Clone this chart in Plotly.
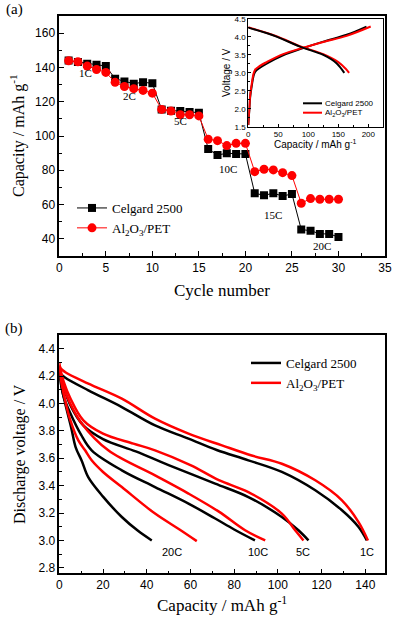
import plotly.graph_objects as go

W, H = 393, 619

# ---------------- Panel (a) data ----------------
cycles = list(range(1, 31))
cap_celgard = [144.0, 143.2, 142.1, 141.6, 140.8,
               133.4, 131.8, 130.5, 131.4, 130.7,
               115.5, 114.8, 114.6, 114.0, 113.6,
               92.4, 88.9, 89.9, 89.5, 89.5,
               66.6, 65.4, 66.6, 65.0, 66.2,
               45.4, 44.8, 42.9, 42.9, 41.1]
cap_al2o3 = [143.9, 143.3, 140.8, 138.8, 137.1,
             131.3, 128.9, 127.6, 126.6, 125.0,
             115.5, 114.6, 112.4, 112.4, 111.7,
             98.1, 97.3, 94.4, 95.7, 95.7,
             79.2, 80.6, 80.2, 78.6, 76.9,
             60.8, 63.5, 63.1, 63.1, 63.1]
rate_labels_a = ["1C", "2C", "5C", "10C", "15C", "20C"]
rate_label_x_a = [2.8, 7.55, 13.0, 18.1, 23.0, 28.2]
rate_label_y_a = [136.7, 123.3, 108.7, 80.6, 53.8, 35.8]

# ---------------- Inset data (charge/discharge) ----------------
ins_ch_cap_c = [0, 1.7, 3, 5.6, 11, 20, 30.6, 58, 91.7, 125, 164, 197]
ins_ch_v_c = [1.55, 1.97, 2.3, 2.62, 3.02, 3.15, 3.26, 3.49, 3.69, 3.87, 4.06, 4.29]
ins_ch_cap_a = [0, 1.7, 3, 5.6, 11, 20, 30.6, 58, 91.7, 125, 164, 204]
ins_ch_v_a = [1.55, 2.0, 2.35, 2.68, 3.08, 3.2, 3.3, 3.52, 3.70, 3.86, 4.03, 4.29]
ins_dis_cap_c = [0, 47, 86, 125, 147, 160]
ins_dis_v_c = [4.26, 4.01, 3.73, 3.5, 3.27, 3.0]
ins_dis_cap_a = [0, 47, 86, 125, 150, 162, 168]
ins_dis_v_a = [4.27, 4.02, 3.74, 3.52, 3.30, 3.12, 3.0]

# ---------------- Panel (b) data ----------------
b_1c_cap_c = [0, 0.5, 2.6, 13.3, 28.6, 43.8, 59.1, 72, 86.5, 101.8, 117.1, 129.3, 136.9, 140.7]
b_1c_v_c = [4.27, 4.22, 4.19, 4.096, 3.974, 3.84, 3.743, 3.66, 3.585, 3.50, 3.366, 3.22, 3.098, 3.0]
b_1c_cap_a = [0, 0.5, 2.6, 13.3, 28.6, 43.8, 59.1, 74.4, 88, 101.8, 117.1, 129.3, 136.9, 141.2]
b_1c_v_a = [4.30, 4.26, 4.23, 4.145, 4.035, 3.889, 3.78, 3.694, 3.62, 3.56, 3.439, 3.293, 3.134, 3.0]

b_5c_cap_c = [0, 2, 5, 11, 20, 35, 50, 71.3, 86.5, 101.8, 109.4, 114]
b_5c_v_c = [4.25, 4.12, 3.99, 3.84, 3.74, 3.65, 3.55, 3.415, 3.317, 3.171, 3.074, 3.0]
b_5c_cap_a = [0, 2, 5, 11, 20, 33.9, 43.8, 60, 73, 86.5, 101.8, 107.9, 111.7]
b_5c_v_a = [4.28, 4.16, 4.04, 3.877, 3.78, 3.707, 3.658, 3.55, 3.44, 3.353, 3.196, 3.074, 3.0]

b_10c_cap_c = [0, 2, 5, 10, 14.8, 28.6, 43.8, 59.1, 71.3, 80, 89.5]
b_10c_v_c = [4.23, 4.05, 3.93, 3.77, 3.658, 3.512, 3.39, 3.269, 3.16, 3.08, 3.0]
b_10c_cap_a = [0, 2, 5, 10, 22.4, 43.8, 59.1, 73, 85, 94.2]
b_10c_v_a = [4.27, 4.12, 4.0, 3.86, 3.658, 3.475, 3.342, 3.21, 3.074, 3.0]

b_20c_cap_c = [0, 1, 3, 5.5, 7.5, 10.3, 13.3, 20, 28.6, 36, 42.3]
b_20c_v_c = [4.22, 4.12, 3.98, 3.82, 3.68, 3.58, 3.46, 3.32, 3.171, 3.07, 3.0]
b_20c_cap_a = [0, 1, 3, 5, 8.7, 11.8, 14.8, 20, 28.6, 43.8, 55, 62.9]
b_20c_v_a = [4.26, 4.15, 4.0, 3.88, 3.73, 3.658, 3.585, 3.5, 3.39, 3.196, 3.08, 2.995]

rate_labels_b = ["20C", "10C", "5C", "1C"]
rate_label_x_b = [51.5, 90.8, 111.7, 140.7]
rate_label_y_b = [2.915, 2.915, 2.915, 2.915]

BLACK = "#000000"
RED = "#ff0000"
SERIF = "Liberation Serif"
SANS = "Liberation Sans"
LEG_C = "Celgard 2500"
LEG_A = "Al<sub>2</sub>O<sub>3</sub>/PET"


def px_x(p):
    return p / W


def px_y(p):
    return 1 - p / H


fig = go.Figure()

# Panel (a)
fig.add_trace(go.Scatter(x=cycles, y=cap_celgard, mode="lines+markers", name=LEG_C,
                         line=dict(color=BLACK, width=1),
                         marker=dict(symbol="square", size=8, color=BLACK),
                         xaxis="x", yaxis="y", legend="legend"))
fig.add_trace(go.Scatter(x=cycles, y=cap_al2o3, mode="lines+markers", name=LEG_A,
                         line=dict(color=RED, width=1),
                         marker=dict(symbol="circle", size=9, color=RED),
                         xaxis="x", yaxis="y", legend="legend"))

# Inset
fig.add_trace(go.Scatter(x=ins_ch_cap_c, y=ins_ch_v_c, mode="lines", showlegend=False,
                         line=dict(color=BLACK, width=2, shape="spline"),
                         xaxis="x2", yaxis="y2"))
fig.add_trace(go.Scatter(x=ins_ch_cap_a, y=ins_ch_v_a, mode="lines", showlegend=False,
                         line=dict(color=RED, width=2, shape="spline"),
                         xaxis="x2", yaxis="y2"))
fig.add_trace(go.Scatter(x=ins_dis_cap_a, y=ins_dis_v_a, mode="lines", showlegend=False,
                         line=dict(color=RED, width=2, shape="spline"),
                         xaxis="x2", yaxis="y2"))
fig.add_trace(go.Scatter(x=ins_dis_cap_c, y=ins_dis_v_c, mode="lines", showlegend=False,
                         line=dict(color=BLACK, width=2, shape="spline"),
                         xaxis="x2", yaxis="y2"))

# Panel (b)
b_sets = [
    (b_1c_cap_c, b_1c_v_c, b_1c_cap_a, b_1c_v_a),
    (b_5c_cap_c, b_5c_v_c, b_5c_cap_a, b_5c_v_a),
    (b_10c_cap_c, b_10c_v_c, b_10c_cap_a, b_10c_v_a),
    (b_20c_cap_c, b_20c_v_c, b_20c_cap_a, b_20c_v_a),
]
for i, (cc, vc, ca, va) in enumerate(b_sets):
    fig.add_trace(go.Scatter(x=cc, y=vc, mode="lines", name=LEG_C, showlegend=(i == 0),
                             line=dict(color=BLACK, width=2.5, shape="spline"),
                             xaxis="x3", yaxis="y3", legend="legend3"))
    fig.add_trace(go.Scatter(x=ca, y=va, mode="lines", name=LEG_A, showlegend=(i == 0),
                             line=dict(color=RED, width=2.5, shape="spline"),
                             xaxis="x3", yaxis="y3", legend="legend3"))


def axis(domain, rng, dtick, minor_dtick, anchor, fontsize=12, ticklen=5, lw=1.5, fmt=None):
    d = dict(domain=domain, range=rng, anchor=anchor, dtick=dtick, tick0=0,
             automargin=False,
             showline=True, mirror=True, linecolor=BLACK, linewidth=lw,
             ticks="inside", ticklen=ticklen, tickwidth=1.2, tickcolor=BLACK,
             showgrid=False, zeroline=False,
             tickfont=dict(family=SANS, size=fontsize, color=BLACK))
    if minor_dtick:
        d["minor"] = dict(dtick=minor_dtick, ticks="inside", ticklen=ticklen * 0.6,
                          tickwidth=1, tickcolor=BLACK, showgrid=False)
    if fmt:
        d["tickformat"] = fmt
    return d


a_xdom = [px_x(59.3), px_x(385)]
a_ydom = [px_y(256), px_y(16)]
i_xdom = [px_x(248.3), px_x(382.7)]
i_ydom = [px_y(126.7), px_y(19)]
b_xdom = [px_x(59.3), px_x(385)]
b_ydom = [px_y(573.3), px_y(335)]

layout = dict(
    template="none",
    width=W, height=H, autosize=False,
    margin=dict(l=0, r=0, t=0, b=0, pad=0, autoexpand=False),
    paper_bgcolor="white", plot_bgcolor="white",
    xaxis=axis(a_xdom, [0, 35], 5, 2.5, "y"),
    yaxis=axis(a_ydom, [30, 170], 20, 10, "x"),
    xaxis2=axis(i_xdom, [0, 224], 50, 25, "y2", fontsize=8, ticklen=3, lw=1.2),
    yaxis2=axis(i_ydom, [1.5, 4.5], 0.5, 0.25, "x2", fontsize=8, ticklen=3, lw=1.2, fmt=".1f"),
    xaxis3=axis(b_xdom, [0, 149], 20, 10, "y3"),
    yaxis3=axis(b_ydom, [2.76, 4.5], 0.2, 0.1, "x3", fmt=".1f"),
    legend=dict(x=px_x(72), y=px_y(193), xanchor="left", yanchor="top",
                bgcolor="rgba(0,0,0,0)", font=dict(family=SERIF, size=13, color=BLACK),
                itemwidth=30, tracegroupgap=0),
    legend3=dict(x=px_x(246), y=px_y(348), xanchor="left", yanchor="top",
                 bgcolor="rgba(0,0,0,0)", font=dict(family=SERIF, size=13, color=BLACK),
                 itemwidth=30, tracegroupgap=0),
    showlegend=True,
)


def ann(text, x, y, size, family, xref="paper", yref="paper", angle=0, xanchor="center"):
    if xref == "paper":
        x = px_x(x)
    if yref == "paper":
        y = px_y(y)
    return dict(text=text, x=x, y=y, xref=xref, yref=yref, showarrow=False,
                xanchor=xanchor, yanchor="middle", textangle=angle,
                font=dict(family=family, size=size, color=BLACK))


annotations = []
for t, x, y in zip(rate_labels_a, rate_label_x_a, rate_label_y_a):
    annotations.append(ann(t, x, y, 11, SERIF, xref="x", yref="y"))
for t, x, y in zip(rate_labels_b, rate_label_x_b, rate_label_y_b):
    annotations.append(ann(t, x, y, 11, SANS, xref="x3", yref="y3"))

annotations += [
    ann("(a)", 14, 9, 15, SERIF),
    ann("(b)", 14, 328, 15, SERIF),
    ann("Cycle number", 222, 291, 17, SERIF),
    ann("Capacity / mAh g<sup>-1</sup>", 17, 136, 16, SERIF, angle=-90),
    ann("Capacity / mAh g<sup>-1</sup>", 315, 144, 10, SANS),
    ann("Voltage / V", 226, 73, 10, SANS, angle=-90),
    ann("Capacity / mAh g<sup>-1</sup>", 222, 604, 17, SERIF),
    ann("Discharge voltage / V", 20, 454, 16, SERIF, angle=-90),
    # inset legend texts
    ann(LEG_C, 323, 103.3, 8, SANS, xanchor="left"),
    ann(LEG_A, 323, 112.7, 8, SANS, xanchor="left"),
]
layout["annotations"] = annotations

layout["shapes"] = [
    dict(type="line", xref="paper", yref="paper", x0=px_x(303), x1=px_x(322),
         y0=px_y(103.3), y1=px_y(103.3), line=dict(color=BLACK, width=2)),
    dict(type="line", xref="paper", yref="paper", x0=px_x(303), x1=px_x(322),
         y0=px_y(112.7), y1=px_y(112.7), line=dict(color=RED, width=2)),
]

fig.update_layout(**layout)
fig.write_html("out.html", config={"displayModeBar": False},
               post_script="document.body.style.margin='0px';")
